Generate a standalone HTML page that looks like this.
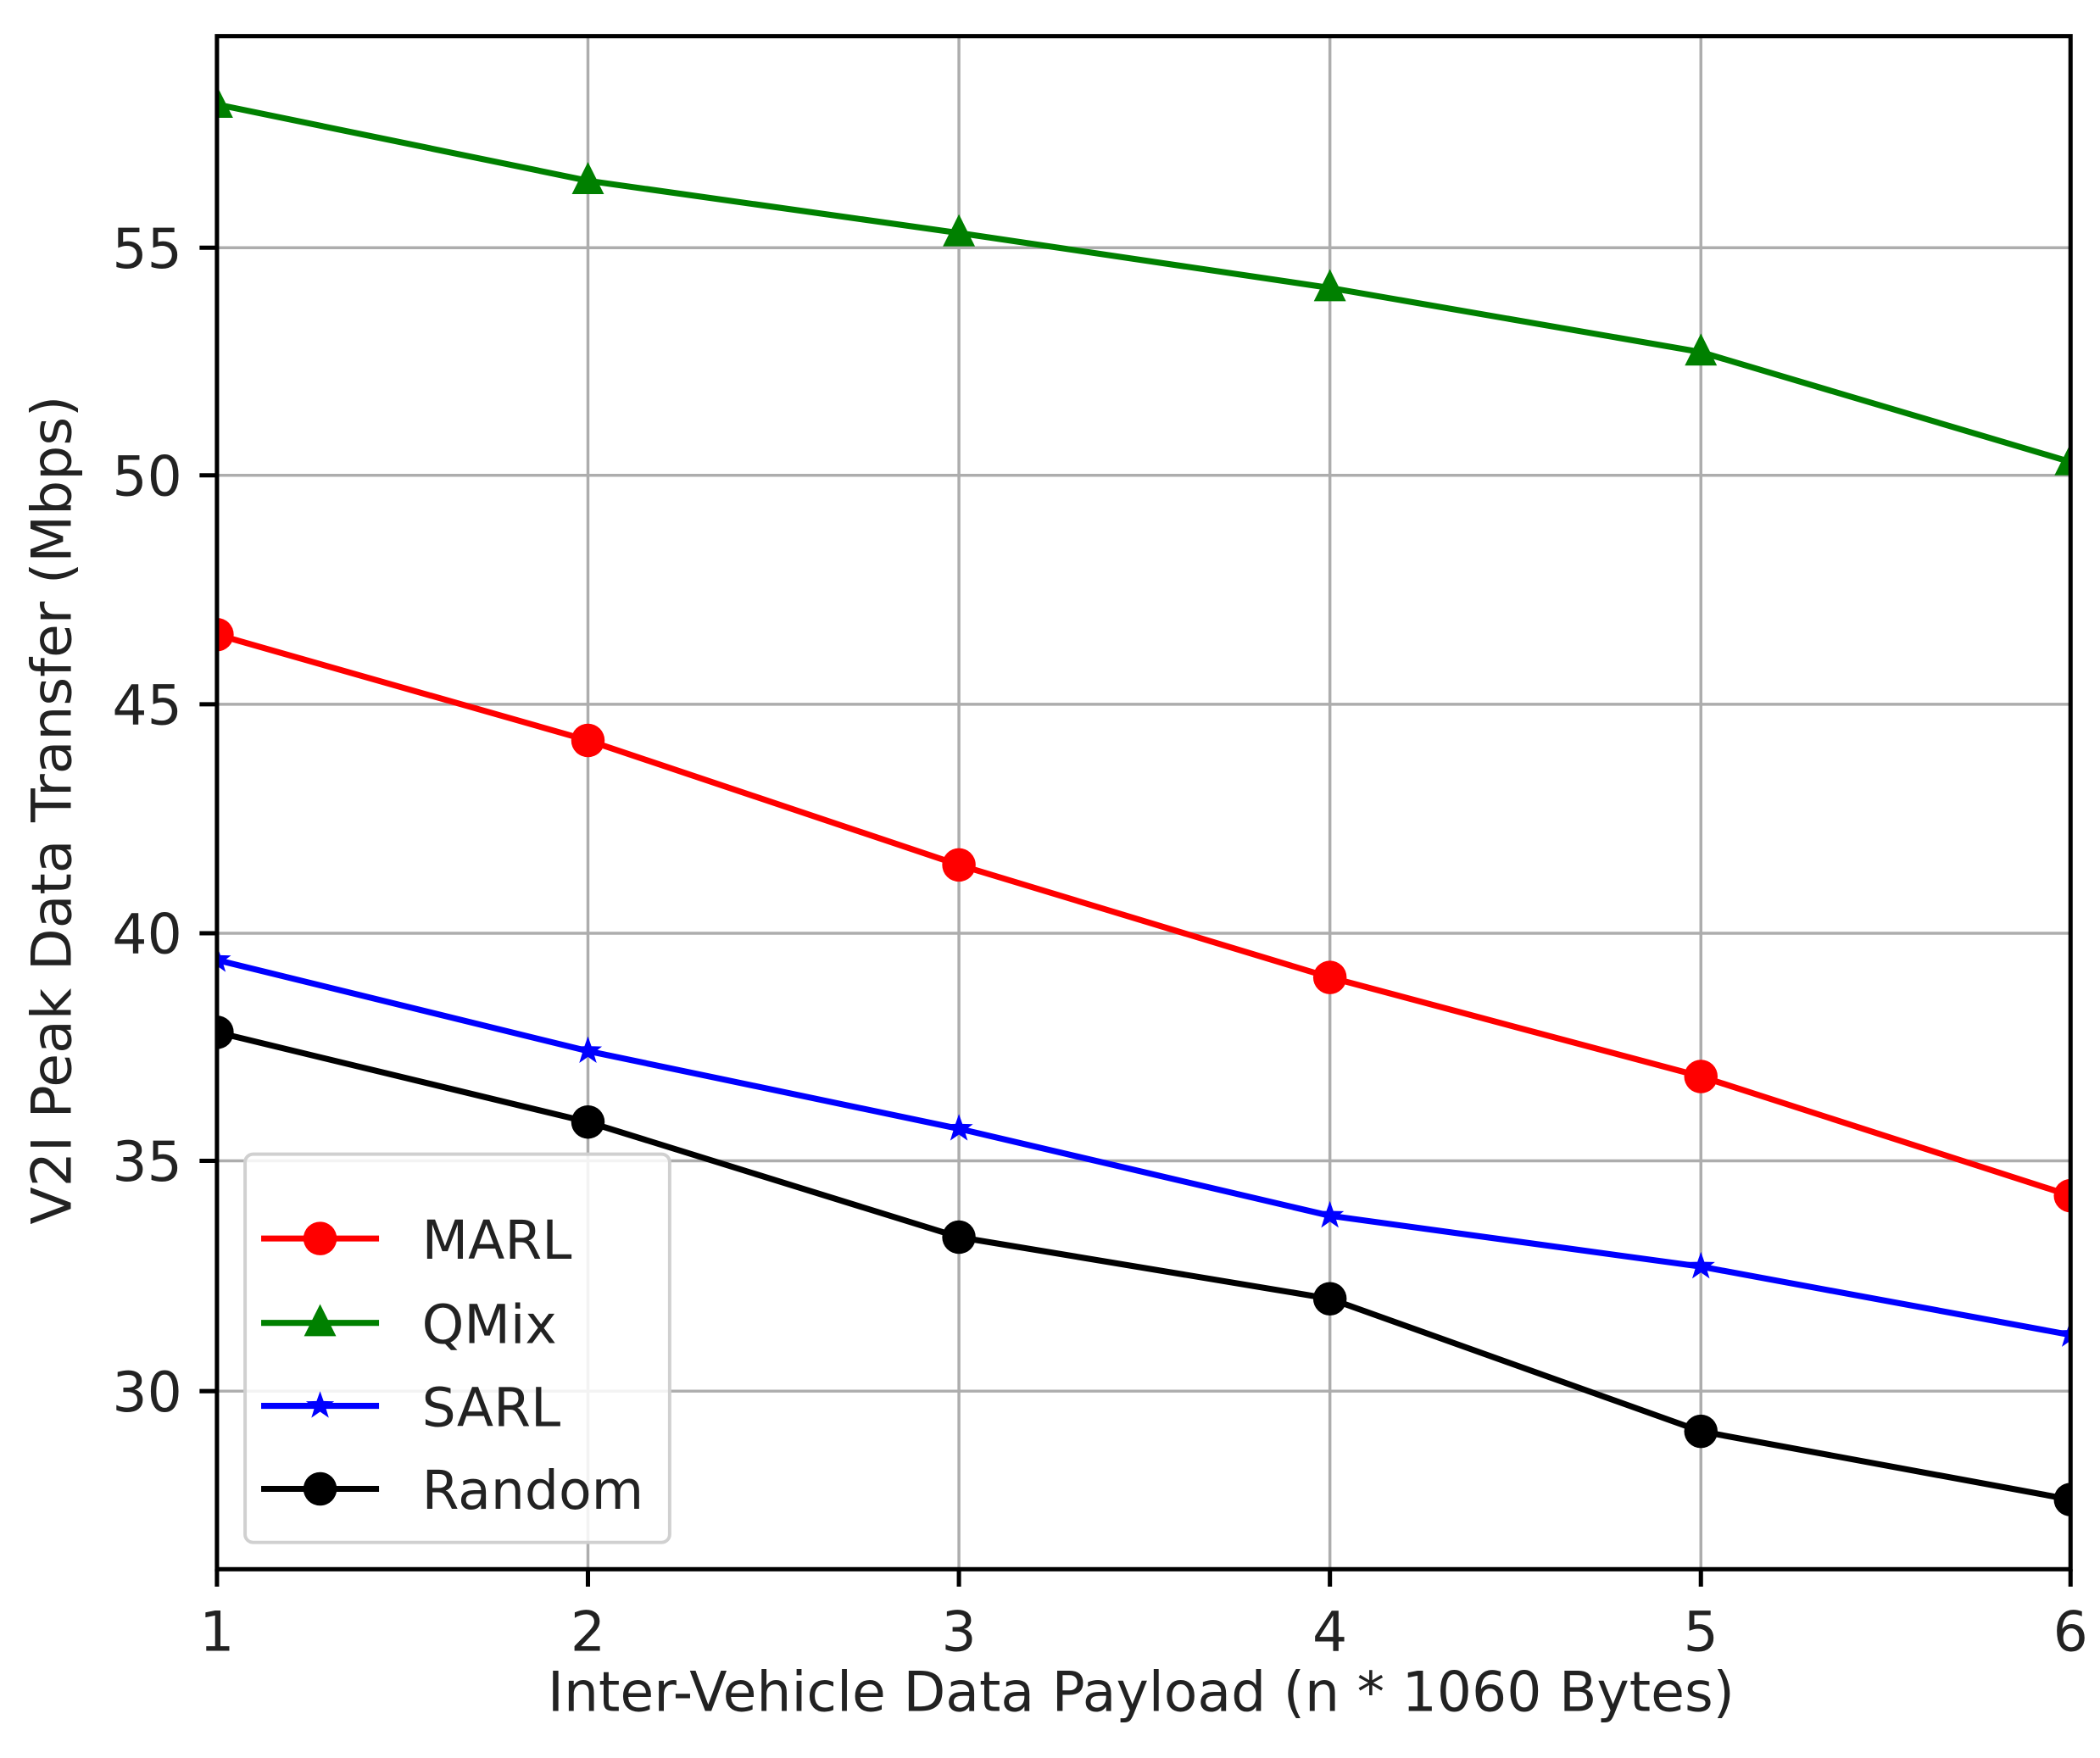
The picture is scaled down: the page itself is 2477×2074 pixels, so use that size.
<!DOCTYPE html>
<html><head><style>html,body{margin:0;padding:0;background:#fff}svg{display:block}</style></head>
<body>
<svg width="2477" height="2074" viewBox="0 0 1568 1313" preserveAspectRatio="none" xmlns="http://www.w3.org/2000/svg" font-family="DejaVu Sans, Liberation Sans, sans-serif">
<defs>
<clipPath id="c"><rect x="162" y="27" width="1384" height="1145"/></clipPath>
<g id="tri"><polygon points="0,-14 12,10 -12,10"/></g>
<g id="star"><polygon points="0,-11 2.6,-3.6 10.5,-3.4 4.2,1.4 6.5,8.9 0,4.4 -6.5,8.9 -4.2,1.4 -10.5,-3.4 -2.6,-3.6"/></g>
</defs>
<g stroke="#adadad" stroke-width="2.2">
<line x1="439" y1="27" x2="439" y2="1172"/><line x1="716" y1="27" x2="716" y2="1172"/><line x1="993" y1="27" x2="993" y2="1172"/><line x1="1270" y1="27" x2="1270" y2="1172"/>
<line x1="162" y1="185" x2="1546" y2="185"/><line x1="162" y1="355" x2="1546" y2="355"/><line x1="162" y1="526" x2="1546" y2="526"/><line x1="162" y1="697" x2="1546" y2="697"/><line x1="162" y1="867" x2="1546" y2="867"/><line x1="162" y1="1039" x2="1546" y2="1039"/>
</g>
<g clip-path="url(#c)" stroke-width="4.5" fill="none" stroke-linejoin="round">
<polyline stroke="#008000" points="162,78 439,135 716,174 993,215 1270,263 1546,345"/>
<polyline stroke="#ff0000" points="162,474 439,553 716,646 993,730 1270,804 1546,893"/>
<polyline stroke="#0000ff" points="162,717 439,785 716,843 993,908 1270,946 1546,997"/>
<polyline stroke="#000" points="162,771 439,838 716,924 993,970 1270,1069 1546,1120"/>
<g fill="#008000" stroke="none">
<use href="#tri" x="162" y="78"/><use href="#tri" x="439" y="135"/><use href="#tri" x="716" y="174"/><use href="#tri" x="993" y="215"/><use href="#tri" x="1270" y="263"/><use href="#tri" x="1546" y="345"/></g>
<g fill="#ff0000" stroke="none">
<circle cx="162" cy="474" r="12.5"/><circle cx="439" cy="553" r="12.5"/><circle cx="716" cy="646" r="12.5"/><circle cx="993" cy="730" r="12.5"/><circle cx="1270" cy="804" r="12.5"/><circle cx="1546" cy="893" r="12.5"/></g>
<g fill="#0000ff" stroke="none">
<use href="#star" x="162" y="717"/><use href="#star" x="439" y="785"/><use href="#star" x="716" y="843"/><use href="#star" x="993" y="908"/><use href="#star" x="1270" y="946"/><use href="#star" x="1546" y="997"/></g>
<g fill="#000" stroke="none">
<circle cx="162" cy="771" r="12.5"/><circle cx="439" cy="838" r="12.5"/><circle cx="716" cy="924" r="12.5"/><circle cx="993" cy="970" r="12.5"/><circle cx="1270" cy="1069" r="12.5"/><circle cx="1546" cy="1120" r="12.5"/></g>
</g>
<rect x="162" y="27" width="1384" height="1145" fill="none" stroke="#000" stroke-width="3.2"/>
<g stroke="#000" stroke-width="3.2">
<line x1="162" y1="1172" x2="162" y2="1185"/><line x1="439" y1="1172" x2="439" y2="1185"/><line x1="716" y1="1172" x2="716" y2="1185"/><line x1="993" y1="1172" x2="993" y2="1185"/><line x1="1270" y1="1172" x2="1270" y2="1185"/><line x1="1546" y1="1172" x2="1546" y2="1185"/>
<line x1="149" y1="185" x2="162" y2="185"/><line x1="149" y1="355" x2="162" y2="355"/><line x1="149" y1="526" x2="162" y2="526"/><line x1="149" y1="697" x2="162" y2="697"/><line x1="149" y1="867" x2="162" y2="867"/><line x1="149" y1="1039" x2="162" y2="1039"/>
</g>
<g font-size="41" fill="#222" text-anchor="middle">
<text x="162" y="1233">1</text><text x="439" y="1233">2</text><text x="716" y="1233">3</text><text x="993" y="1233">4</text><text x="1270" y="1233">5</text><text x="1546" y="1233">6</text>
</g>
<g font-size="41" fill="#222" text-anchor="end">
<text x="136" y="200">55</text><text x="136" y="370">50</text><text x="136" y="541">45</text><text x="136" y="712">40</text><text x="136" y="882">35</text><text x="136" y="1054">30</text>
</g>
<text x="852" y="1278" font-size="41" fill="#222" text-anchor="middle">Inter-Vehicle Data Payload (n * 1060 Bytes)</text>
<text transform="translate(53,605) rotate(-90)" font-size="41" fill="#222" text-anchor="middle">V2I Peak Data Transfer (Mbps)</text>
<rect x="183" y="862" width="317" height="290" rx="6" fill="#fff" fill-opacity="0.85" stroke="#d0d0d0" stroke-width="2.5"/>
<g stroke-width="4.5">
<line x1="195" y1="925" x2="283" y2="925" stroke="#ff0000"/><circle cx="239" cy="925" r="12.5" fill="#ff0000"/>
<line x1="195" y1="988" x2="283" y2="988" stroke="#008000"/><use href="#tri" x="239" y="988" fill="#008000"/>
<line x1="195" y1="1050" x2="283" y2="1050" stroke="#0000ff"/><use href="#star" x="239" y="1050" fill="#0000ff"/>
<line x1="195" y1="1112" x2="283" y2="1112" stroke="#000"/><circle cx="239" cy="1112" r="12.5" fill="#000"/>
</g>
<g font-size="40" fill="#222">
<text x="315" y="940">MARL</text><text x="315" y="1003">QMix</text><text x="315" y="1065">SARL</text><text x="315" y="1127">Random</text>
</g>
</svg>
</body></html>
